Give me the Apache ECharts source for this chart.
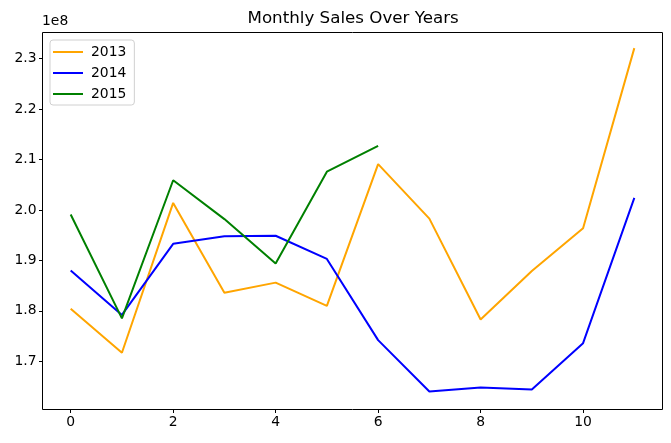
<!DOCTYPE html>
<html>
<head>
<meta charset="utf-8">
<script src="https://cdn.jsdelivr.net/npm/echarts@6/dist/echarts.min.js"></script>
<style>html,body{margin:0;padding:0;background:#fff;}#c{width:671px;height:443px;}</style>
</head>
<body>
<div id="c"></div>
<script>
const months = [0,1,2,3,4,5,6,7,8,9,10,11];
const sales2013 = [1.804,1.717,2.014,1.836,1.856,1.810,2.091,1.983,1.783,1.879,1.964,2.321];
const sales2014 = [1.880,1.792,1.933,1.948,1.949,1.903,1.742,1.640,1.648,1.644,1.736,2.024];
const sales2015 = [1.991,1.785,2.059,1.982,1.894,2.076,2.127];
const xTicks = [0,2,4,6,8,10];
const yTicks = [1.7,1.8,1.9,2.0,2.1,2.2,2.3];
const seriesNames = ['2013','2014','2015'];
const colors = ['#FFA500','#0000FF','#008000'];

function pairs(arr){ return arr.map((v,i)=>[months[i], v]); }
const font = 'DejaVu Sans';
const chart = echarts.init(document.getElementById('c'));
chart.setOption({
  animation:false,
  backgroundColor:'#fff',
  title:{text:'Monthly Sales Over Years', left:247.5, top:10, padding:0,
    textStyle:{fontFamily:font, fontSize:16.7, fontWeight:'normal', color:'#000'}},
  graphic:[{type:'text', left:42, top:14, style:{text:'1e8', font:'13.9px "DejaVu Sans"', fill:'#000'}}],
  legend:{orient:'vertical', left:50, top:40, padding:[5,8,4,3], itemGap:7,
    borderColor:'#d0d0d0', borderWidth:1, borderRadius:3, backgroundColor:'rgba(255,255,255,0.8)',
    itemWidth:30, itemHeight:2, icon:'rect',
    textStyle:{fontFamily:font, fontSize:13.9, color:'#000', padding:[0,0,0,3]},
    data:seriesNames},
  grid:{left:42.5, right:8.5, top:32.5, bottom:33.5, show:true, borderColor:'#000', borderWidth:1, containLabel:false},
  xAxis:{type:'value', min:-0.55, max:11.55,
    axisLine:{show:false, onZero:false}, splitLine:{show:false},
    axisTick:{show:true, length:3.5, lineStyle:{color:'#000'}, customValues:xTicks},
    axisLabel:{customValues:xTicks, fontFamily:font, fontSize:13.9, color:'#000', margin:6}},
  yAxis:{type:'value', min:1.6044, max:2.352,
    axisLine:{show:false, onZero:false}, splitLine:{show:false},
    axisTick:{show:true, length:3.5, lineStyle:{color:'#000'}, customValues:yTicks},
    axisLabel:{customValues:yTicks, fontFamily:font, fontSize:13.9, color:'#000', margin:6,
      formatter:v=>v.toFixed(1)}},
  series:[
    {name:seriesNames[0], type:'line', data:pairs(sales2013), showSymbol:false, symbol:'none', color:colors[0], lineStyle:{width:2}},
    {name:seriesNames[1], type:'line', data:pairs(sales2014), showSymbol:false, symbol:'none', color:colors[1], lineStyle:{width:2}},
    {name:seriesNames[2], type:'line', data:pairs(sales2015), showSymbol:false, symbol:'none', color:colors[2], lineStyle:{width:2}}
  ]
});
</script>
</body>
</html>
